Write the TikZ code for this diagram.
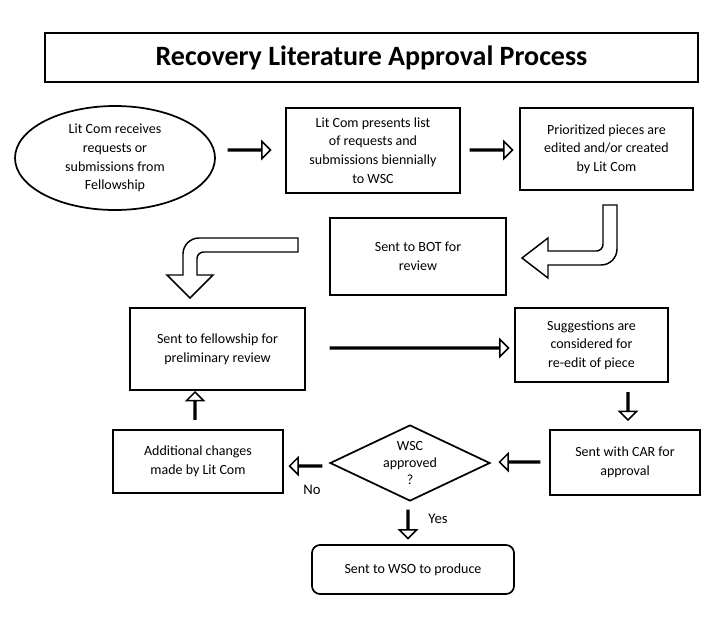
\documentclass[tikz,border=0pt]{standalone}
\usepackage{fontspec}
\setmainfont{Carlito}
\usetikzlibrary{shapes.geometric,shapes.arrows}
\begin{document}
\begin{tikzpicture}[x=0.75pt,y=-0.75pt,line width=1.3pt,
  box/.style={draw,align=center,font=\fontsize{10.5}{14}\selectfont,inner sep=0pt},
  arr/.style={single arrow,draw,line width=1.1pt,single arrow head extend=4.5pt,minimum width=13pt,inner sep=0pt},
  lab/.style={font=\fontsize{11}{13}\selectfont}]
\useasboundingbox (0,0) rectangle (720,625);
\node[draw,minimum width=653*0.75pt,minimum height=49*0.75pt,font=\bfseries\fontsize{21}{24}\selectfont] (title) at (371.5,57.5) {Recovery Literature Approval Process};
\node[box,ellipse,minimum width=200*0.75pt,minimum height=104*0.75pt] (e) at (115,158) {Lit Com receives\\requests or\\submissions from\\Fellowship};
\node[box,minimum width=174*0.75pt,minimum height=85*0.75pt] (b2) at (373,150.5) {Lit Com presents list\\of requests and\\submissions biennially\\to WSC};
\node[box,minimum width=173*0.75pt,minimum height=82*0.75pt] (b3) at (606.5,149) {Prioritized pieces are\\edited and/or created\\by Lit Com};
\node[box,minimum width=176*0.75pt,minimum height=77*0.75pt] (bot) at (418,256.5) {Sent to BOT for\\review};
\node[box,minimum width=175*0.75pt,minimum height=82*0.75pt] (fel) at (217.5,349) {Sent to fellowship for\\preliminary review};
\node[box,minimum width=153*0.75pt,minimum height=74*0.75pt] (sug) at (591.5,345) {Suggestions are\\considered for\\re-edit of piece};
\node[box,minimum width=150*0.75pt,minimum height=65*0.75pt] (car) at (625,462.5) {Sent with CAR for\\approval};
\node[box,diamond,aspect=2.1,minimum width=160*0.75pt,minimum height=76*0.75pt,font=\fontsize{10.5}{12.5}\selectfont] (d) at (410,463) {WSC\\approved\\?};
\node[box,minimum width=170*0.75pt,minimum height=63*0.75pt] (add) at (198,461.5) {Additional changes\\made by Lit Com};
\node[box,rounded corners=6pt,minimum width=202*0.75pt,minimum height=49*0.75pt] (wso) at (413,569.5) {Sent to WSO to produce};
% straight block arrows
\node[arr,minimum height=42*0.75pt] (a1) at (249,150) {};
\node[arr,minimum height=42*0.75pt] (a2) at (491,150) {};
\node[arr,minimum height=178*0.75pt] (a3) at (419,348) {};
\node[arr,minimum height=27*0.75pt,shape border rotate=270] (a4) at (628,406) {};
\node[arr,minimum height=40*0.75pt,shape border rotate=180] (a5) at (520,462) {};
\node[arr,minimum height=32*0.75pt,shape border rotate=180] (a6) at (306,466) {};
\node[arr,minimum height=27*0.75pt,shape border rotate=90] (a7) at (195,406) {};
\node[arr,minimum height=28*0.75pt,shape border rotate=270] (a8) at (408,524) {};
\node[lab] (no) at (312,490) {No};
\node[lab] (yes) at (438,519) {Yes};
% bent arrows
\draw[line width=1.1pt] (617,205) [rounded corners=12pt]-- (617,265) [sharp corners]-- (548,265) -- (548,278) -- (522,258) -- (548,238) -- (548,251) [rounded corners=5pt]-- (603,251) [sharp corners]-- (603,205) -- cycle;
\draw[line width=1.1pt] (298,238) [rounded corners=12pt]-- (183,238) [sharp corners]-- (183,275) -- (167,275) -- (190,298) -- (213,275) -- (197,275) [rounded corners=5pt]-- (197,252) [sharp corners]-- (298,252) -- cycle;
\end{tikzpicture}
\end{document}
